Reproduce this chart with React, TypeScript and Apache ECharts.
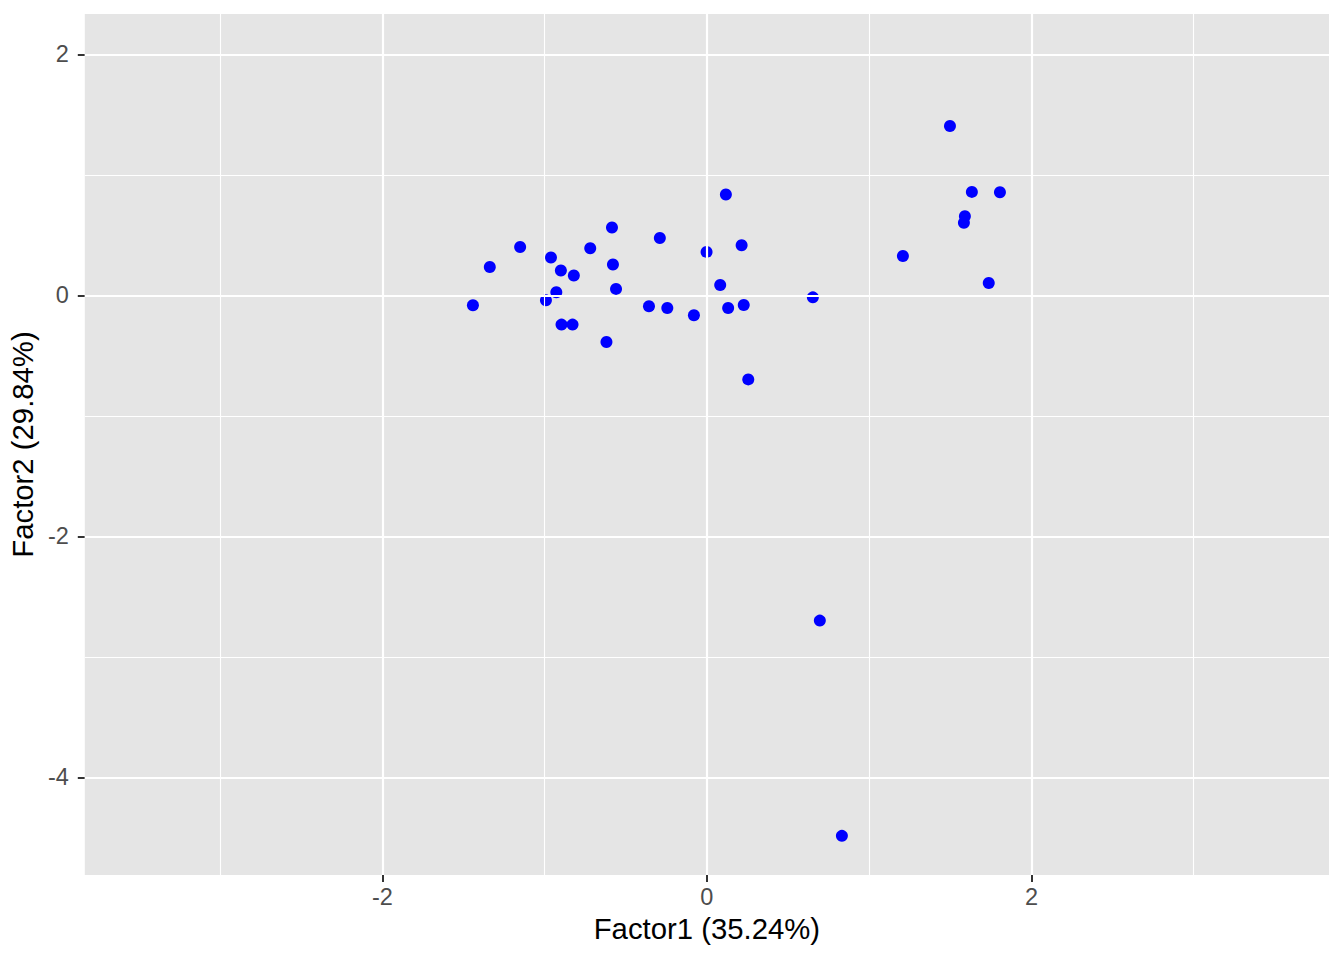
import React, { useEffect, useRef } from "react";
import * as echarts from "echarts";

const factor1: number[] = [
  -1.442, -1.338, -1.151, -0.992, -0.961, -0.928, -0.900, -0.896, -0.828, -0.820,
  -0.719, -0.619, -0.585, -0.579, -0.560, -0.357, -0.290, -0.244, -0.080, -0.002,
  0.082, 0.117, 0.131, 0.214, 0.227, 0.255, 0.653, 0.696, 0.832, 1.208,
  1.498, 1.590, 1.584, 1.633, 1.737, 1.806,
];
const factor2: number[] = [
  -0.083, 0.235, 0.401, -0.042, 0.314, 0.025, 0.206, -0.243, -0.243, 0.164,
  0.390, -0.388, 0.563, 0.255, 0.053, -0.091, 0.475, -0.105, -0.166, 0.360,
  0.085, 0.836, -0.105, 0.415, -0.080, -0.698, -0.017, -2.699, -4.485, 0.326,
  1.405, 0.656, 0.601, 0.858, 0.102, 0.855,
];

const xRange = [-3.834, 3.834];
const yRange = [-4.81, 2.334];
const xMajorTicks = [-2, 0, 2];
const xMinorTicks = [-3, -1, 1, 3];
const yMajorTicks = [-4, -2, 0, 2];
const yMinorTicks = [-3, -1, 1];
const xTitle = "Factor1 (35.24%)";
const yTitle = "Factor2 (29.84%)";

const FONT = "'Liberation Sans', Arial, Helvetica, sans-serif";

export default function App() {
  const ref = useRef<HTMLDivElement>(null);
  useEffect(() => {
    document.body.style.margin = "0";
    if (!ref.current) return;
    const chart = echarts.init(ref.current, undefined, { renderer: "svg" });
    const gridLine = (axis: "xAxis" | "yAxis", vals: number[], width: number) =>
      vals.map((v) => ({ [axis]: v, lineStyle: { color: "#FFFFFF", width, type: "solid" } }));
    const option: any = {
      animation: false,
      backgroundColor: "#FFFFFF",
      textStyle: { fontFamily: FONT },
      grid: {
        left: 83,
        right: 15,
        top: 14,
        bottom: 85,
        show: true,
        backgroundColor: "#E5E5E5",
        borderWidth: 0,
      },
      xAxis: {
        type: "value",
        min: xRange[0],
        max: xRange[1],
        axisLine: { show: false, onZero: false },
        splitLine: { show: false },
        axisTick: {
          show: true,
          customValues: xMajorTicks,
          length: 7,
          lineStyle: { color: "#333333", width: 2 },
        },
        axisLabel: {
          customValues: xMajorTicks,
          color: "#4D4D4D",
          fontSize: 23.5,
          fontFamily: FONT,
          margin: 10,
        },
        name: xTitle,
        nameLocation: "middle",
        nameGap: 35,
        nameTextStyle: { color: "#000000", fontSize: 29.3, fontFamily: FONT },
      },
      yAxis: {
        type: "value",
        min: yRange[0],
        max: yRange[1],
        axisLine: { show: false, onZero: false },
        splitLine: { show: false },
        axisTick: {
          show: true,
          customValues: yMajorTicks,
          length: 7,
          lineStyle: { color: "#333333", width: 2 },
        },
        axisLabel: {
          customValues: yMajorTicks,
          color: "#4D4D4D",
          fontSize: 23.5,
          fontFamily: FONT,
          margin: 16,
        },
        name: yTitle,
        nameLocation: "middle",
        nameGap: 38,
        nameRotate: 90,
        nameTextStyle: { color: "#000000", fontSize: 29.3, fontFamily: FONT },
      },
      series: [
        {
          type: "scatter",
          data: [],
          z: 1,
          silent: true,
          markLine: {
            silent: true,
            symbol: ["none", "none"],
            label: { show: false },
            emphasis: { disabled: true },
            animation: false,
            data: [
              ...gridLine("xAxis", xMinorTicks, 1.1),
              ...gridLine("yAxis", yMinorTicks, 1.1),
              ...gridLine("xAxis", xMajorTicks, 2.2),
              ...gridLine("yAxis", yMajorTicks, 2.2),
            ],
          },
        },
        {
          type: "scatter",
          z: 3,
          symbol: "circle",
          symbolSize: 12,
          itemStyle: { color: "#0000FF", opacity: 1 },
          data: factor1.map((x, i) => [x, factor2[i]]),
        },
      ],
    };
    chart.setOption(option);
    return () => chart.dispose();
  }, []);
  return <div ref={ref} style={{ width: 1344, height: 960 }} />;
}
